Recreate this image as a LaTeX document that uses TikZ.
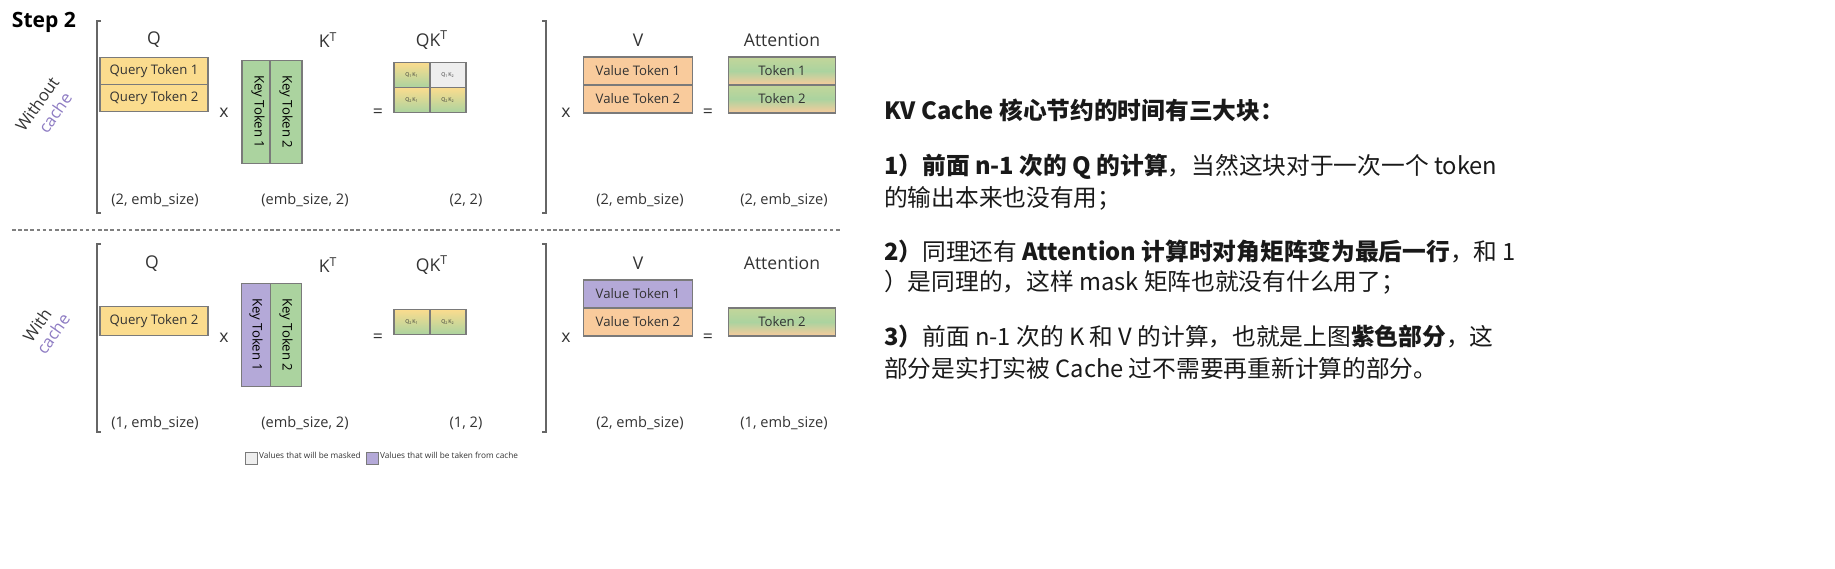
\documentclass[tikz,border=0pt]{standalone}
\usepackage{fontspec}
\setmainfont{Open Sans}
\newfontfamily\cjk{Noto Sans CJK SC}
\definecolor{qy}{HTML}{FBDC8E}
\definecolor{kg}{HTML}{ABD39F}
\definecolor{pp}{HTML}{B4A9D8}
\definecolor{vo}{HTML}{F9CB9C}
\definecolor{mg}{HTML}{EEEEEE}
\definecolor{bd}{HTML}{7A7A7A}
\definecolor{cachec}{HTML}{8E7CC3}
\begin{document}
\begin{tikzpicture}[x=0.02cm,y=-0.02cm,
  cell/.style={draw=bd,line width=0.6pt,inner sep=0,font=\fontsize{7.5pt}{8pt}\selectfont,text=black!80},
  lab/.style={font=\fontsize{10pt}{11pt}\selectfont,text=black!80},
  dim/.style={font=\fontsize{8.3pt}{9pt}\selectfont,text=black!80},
  tiny/.style={cell,font=\fontsize{3pt}{3pt}\selectfont},
  side/.style={rotate=55,align=center,inner sep=0,font=\fontsize{9.5pt}{10pt}\selectfont,text=black!80},
  br/.style={draw=black!60,line width=1pt},
  rt/.style={anchor=west,font=\cjk\fontsize{13.5pt}{15pt}\selectfont,text=black!90},
  att/.style={cell,top color=kg!70!qy,bottom color=vo,middle color=kg}]
\useasboundingbox (0,0) rectangle (1835,568);
\node[font=\bfseries\fontsize{12pt}{13pt}\selectfont] (step) at (44,22) {Step 2};
% brackets
\draw[br] (101,21) -- (97,21) -- (97,213) -- (101,213);
\draw[br] (542,21) -- (546,21) -- (546,213) -- (542,213);
\draw[br] (101,244) -- (97,244) -- (97,432) -- (101,432);
\draw[br] (542,244) -- (546,244) -- (546,432) -- (542,432);
\draw[black!50,line width=0.7pt,dash pattern=on 2pt off 1.5pt] (12,230) -- (840,230);
% side labels
\node[side] (wo) at (37,104) {Without};
\node[side,text=cachec] (woc) at (55,113) {cache};
\node[side] (wi) at (37,325) {With};
\node[side,text=cachec] (wic) at (53,334) {cache};
% ===== top =====
\node[lab] (ql1) at (154,40) {Q};
\node[cell,fill=qy,minimum width=2.16cm,minimum height=0.54cm] (q1) at (154,71) {Query Token 1};
\node[cell,fill=qy,minimum width=2.16cm,minimum height=0.54cm] (q2) at (154,98) {Query Token 2};
\node[lab] (x1) at (224,113) {x};
\node[lab] (kl1) at (328,40) {K\textsuperscript{T}};
\node[cell,fill=kg,minimum width=0.64cm,minimum height=2.06cm] (k1) at (258,112) {};
\node[cell,fill=kg,minimum width=0.64cm,minimum height=2.06cm] (k2) at (286,112) {};
\node[rotate=-90,font=\fontsize{7.5pt}{8pt}\selectfont] at (k1) {Key Token 1};
\node[rotate=-90,font=\fontsize{7.5pt}{8pt}\selectfont] at (k2) {Key Token 2};
\node[lab] (e1) at (378,113) {=};
\node[lab] (qkl1) at (432,40) {QK\textsuperscript{T}};
\node[tiny,top color=qy,bottom color=kg,minimum width=0.72cm,minimum height=0.5cm] (c11) at (412,75) {Q\textsubscript{1}K\textsubscript{1}};
\node[tiny,fill=mg,minimum width=0.72cm,minimum height=0.5cm] (c12) at (448,75) {Q\textsubscript{1}K\textsubscript{2}};
\node[tiny,top color=qy,bottom color=kg,minimum width=0.72cm,minimum height=0.5cm] (c21) at (412,100) {Q\textsubscript{2}K\textsubscript{1}};
\node[tiny,top color=qy,bottom color=kg,minimum width=0.72cm,minimum height=0.5cm] (c22) at (448,100) {Q\textsubscript{2}K\textsubscript{2}};
\node[lab] (x2) at (566,113) {x};
\node[lab] (vl1) at (638,40) {V};
\node[cell,fill=vo,minimum width=2.18cm,minimum height=0.56cm] (v1) at (638,71) {Value Token 1};
\node[cell,fill=vo,minimum width=2.18cm,minimum height=0.56cm] (v2) at (638,99) {Value Token 2};
\node[lab] (e2) at (708,113) {=};
\node[lab] (al1) at (782,40) {Attention};
\node[att,minimum width=2.14cm,minimum height=0.56cm] (a1) at (782,71) {Token 1};
\node[att,minimum width=2.14cm,minimum height=0.56cm] (a2) at (782,99) {Token 2};
\node[dim] (d1) at (155,200) {(2, emb\_size)};
\node[dim] (d2) at (305,200) {(emb\_size, 2)};
\node[dim] (d3) at (466,200) {(2, 2)};
\node[dim] (d4) at (640,200) {(2, emb\_size)};
\node[dim] (d5) at (784,200) {(2, emb\_size)};
% ===== bottom =====
\node[lab] (ql2) at (152,264) {Q};
\node[cell,fill=qy,minimum width=2.16cm,minimum height=0.58cm] (bq2) at (154,321) {Query Token 2};
\node[lab] (x3) at (224,338) {x};
\node[lab] (kl2) at (328,265) {K\textsuperscript{T}};
\node[cell,fill=pp,minimum width=0.58cm,minimum height=2.06cm] (bk1) at (256,335) {};
\node[cell,fill=kg,minimum width=0.62cm,minimum height=2.06cm] (bk2) at (286,335) {};
\node[rotate=-90,font=\fontsize{7.5pt}{8pt}\selectfont] at (bk1) {Key Token 1};
\node[rotate=-90,font=\fontsize{7.5pt}{8pt}\selectfont] at (bk2) {Key Token 2};
\node[lab] (e3) at (378,338) {=};
\node[lab] (qkl2) at (432,265) {QK\textsuperscript{T}};
\node[tiny,top color=qy,bottom color=kg,minimum width=0.72cm,minimum height=0.5cm] (b21) at (412,322) {Q\textsubscript{2}K\textsubscript{1}};
\node[tiny,top color=qy,bottom color=kg,minimum width=0.72cm,minimum height=0.5cm] (b22) at (448,322) {Q\textsubscript{2}K\textsubscript{2}};
\node[lab] (x4) at (566,338) {x};
\node[lab] (vl2) at (638,263) {V};
\node[cell,fill=pp,minimum width=2.18cm,minimum height=0.56cm] (bv1) at (638,294) {Value Token 1};
\node[cell,fill=vo,minimum width=2.18cm,minimum height=0.56cm] (bv2) at (638,322) {Value Token 2};
\node[lab] (e4) at (708,338) {=};
\node[lab] (al2) at (782,263) {Attention};
\node[att,minimum width=2.14cm,minimum height=0.56cm] (ba2) at (782,322) {Token 2};
\node[dim] (f1) at (155,423) {(1, emb\_size)};
\node[dim] (f2) at (305,423) {(emb\_size, 2)};
\node[dim] (f3) at (466,423) {(1, 2)};
\node[dim] (f4) at (640,423) {(2, emb\_size)};
\node[dim] (f5) at (784,423) {(1, emb\_size)};
% legend
\node[draw=bd,fill=mg,minimum size=0.24cm,inner sep=0] (lg1) at (251,458) {};
\node[anchor=west,inner sep=1pt,font=\fontsize{4.7pt}{5pt}\selectfont,text=black!80] (lt1) at (257,455) {Values that will be masked};
\node[draw=bd,fill=pp,minimum size=0.24cm,inner sep=0] (lg2) at (372,458) {};
\node[anchor=west,inner sep=1pt,font=\fontsize{4.7pt}{5pt}\selectfont,text=black!80] (lt2) at (378,455) {Values that will be taken from cache};
% right text
\node[rt] (t0) at (878,110) {\bfseries KV Cache 核心节约的时间有三大块：};
\node[rt] (t1) at (878,167) {\bfseries 1）前面 n-1 次的 Q 的计算\mdseries，当然这块对于一次一个 token};
\node[rt] (t2) at (878,198) {的输出本来也没有用；};
\node[rt] (t3) at (878,251) {\bfseries 2）\mdseries 同理还有 \bfseries Attention 计算时对角矩阵变为最后一行\mdseries，和 1};
\node[rt] (t4) at (878,282) {）是同理的，这样 mask 矩阵也就没有什么用了；};
\node[rt] (t5) at (878,337) {\bfseries 3）\mdseries 前面 n-1 次的 K 和 V 的计算，也就是上图\bfseries 紫色部分\mdseries，这};
\node[rt] (t6) at (878,368) {部分是实打实被 Cache 过不需要再重新计算的部分。};
\end{tikzpicture}
\end{document}
